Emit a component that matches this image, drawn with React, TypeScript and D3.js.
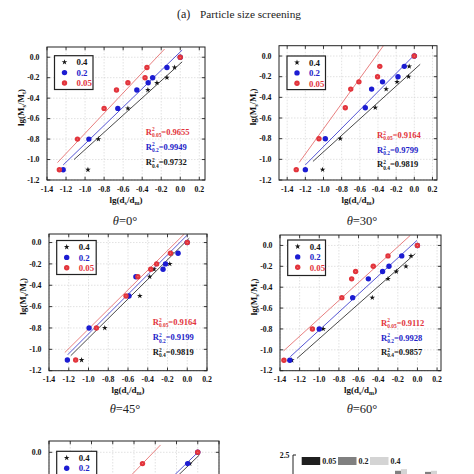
import React from "react";
import * as d3 from "d3";

const FONT = "'Liberation Serif','Times New Roman',serif";

// ---------- data ----------
const seriesKeys = ["0.4", "0.2", "0.05"];
const xTicks = [-1.4, -1.2, -1.0, -0.8, -0.6, -0.4, -0.2, 0.0, 0.2];
const yTicks = [0.0, -0.2, -0.4, -0.6, -0.8, -1.0, -1.2];

// θ=0°
const t0_s04 = [[-0.97, -1.1], [-0.86, -0.8], [-0.55, -0.5], [-0.34, -0.32], [-0.245, -0.25], [-0.14, -0.2], [-0.06, -0.1], [0, 0]];
const t0_s02 = [[-1.23, -1.1], [-0.96, -0.8], [-0.656, -0.5], [-0.456, -0.32], [-0.337, -0.25], [-0.29, -0.2], [-0.14, -0.1], [0, 0]];
const t0_s005 = [[-1.27, -1.1], [-1.08, -0.8], [-0.8, -0.5], [-0.67, -0.32], [-0.55, -0.25], [-0.37, -0.2], [-0.35, -0.1], [0, 0]];
const t0_fits = [[-1.116, -1.0, 0.02, -0.045], [-1.23, -1.053, 0.02, 0.07], [-1.29, -1.03, -0.165, 0.08]];
const t0_r2 = ["0.9732", "0.9949", "0.9655"];

// θ=30°
const t30_s04 = [[-1.01, -1.1], [-0.815, -0.8], [-0.43, -0.5], [-0.31, -0.32], [-0.19, -0.25], [-0.063, -0.2], [-0.056, -0.1], [0, 0]];
const t30_s02 = [[-1.2, -1.1], [-0.98, -0.8], [-0.54, -0.5], [-0.47, -0.32], [-0.35, -0.25], [-0.18, -0.2], [-0.11, -0.1], [0, 0]];
const t30_s005 = [[-1.3, -1.1], [-1.05, -0.8], [-0.76, -0.5], [-0.7, -0.32], [-0.61, -0.25], [-0.405, -0.2], [-0.38, -0.1], [0, 0]];
const t30_fits = [[-1.116, -1.02, 0.065, -0.08], [-1.2, -1.054, 0.01, 0.018], [-1.267, -1.03, -0.34, 0.1]];
const t30_r2 = ["0.9819", "0.9799", "0.9164"];

// θ=45°
const t45_s04 = [[-1.07, -1.1], [-0.835, -0.8], [-0.48, -0.5], [-0.38, -0.32], [-0.336, -0.25], [-0.177, -0.2], [-0.16, -0.1], [0, 0]];
const t45_s02 = [[-1.214, -1.1], [-0.994, -0.8], [-0.59, -0.5], [-0.52, -0.32], [-0.245, -0.25], [-0.22, -0.2], [-0.093, -0.1], [0, 0]];
const t45_s005 = [[-1.13, -1.1], [-0.92, -0.8], [-0.62, -0.5], [-0.5, -0.32], [-0.37, -0.25], [-0.31, -0.2], [-0.17, -0.1], [0, 0]];
const t45_fits = [[-1.18, -1.06, 0.02, 0.04], [-1.21, -1.05, 0.0, 0.07], [-1.24, -1.03, -0.03, 0.08]];
const t45_r2 = ["0.9819", "0.9199", "0.9164"];

// θ=60°
const t60_s04 = [[-1.28, -1.1], [-0.96, -0.8], [-0.46, -0.5], [-0.3, -0.32], [-0.215, -0.25], [-0.117, -0.2], [-0.066, -0.1], [0, 0]];
const t60_s02 = [[-1.3, -1.1], [-1.0, -0.8], [-0.66, -0.5], [-0.5, -0.32], [-0.355, -0.25], [-0.29, -0.2], [-0.16, -0.1], [0, 0]];
const t60_s005 = [[-1.36, -1.1], [-1.07, -0.8], [-0.77, -0.5], [-0.67, -0.32], [-0.63, -0.25], [-0.45, -0.2], [-0.3, -0.1], [0, 0]];
const t60_fits = [[-1.227, -1.082, -0.022, -0.079], [-1.295, -1.066, -0.005, 0.048], [-1.363, -1.01, -0.073, 0.096]];
const t60_r2 = ["0.9857", "0.9928", "0.9112"];

// bottom-left (partly visible)
const t90_s04 = [[-0.075, -0.1], [0, 0]];
const t90_s02 = [[-0.095, -0.1], [0, 0]];
const t90_s005 = [[-0.52, -0.1], [0, 0]];
const t90_fits = [[-0.6, -0.58, 0.015, -0.024], [-0.6, -0.55, -0.01, -0.01], [-1.2, -0.76, -0.35, 0.065]];

// bottom-right bar chart (partly visible)
const barGroups = ["g1", "g2", "g3", "g4", "g5", "g6"];
const bar005 = [1.6, 1.7, 1.8, 2.05, 2.0, 1.9];
const bar02 = [1.7, 1.8, 1.9, 2.21, 2.19, 2.0];
const bar04 = [1.75, 1.85, 1.95, 2.24, 2.21, 2.05];
const barKeys = ["0.05", "0.2", "0.4"];

// ---------- style ----------
const ptColors = ["#151515", "#1c1cd2", "#e2343c"];
const fitColors = ["#1a1a1a", "#2b2bc9", "#e26060"];
const r2Colors = ["#151515", "#2323c8", "#e2343c"];
const barColors = ["#1f1f1f", "#808080", "#d4d4d4"];
const VIEW_H = 474;

const fmt = (v: number) => {
  const a = Math.abs(v) < 1e-9 ? 0 : v;
  return (a < 0 ? "-" : "") + Math.abs(a).toFixed(1);
};

function Marker({ i, cx, cy }: { i: number; cx: number; cy: number }) {
  if (i === 0) {
    const p = d3.symbol(d3.symbolStar, 10)() as string;
    return <path d={p} transform={`translate(${cx},${cy})`} fill={ptColors[0]} />;
  }
  if (i === 1) return <circle cx={cx} cy={cy} r={2.7} fill={ptColors[1]} />;
  return (
    <g>
      <circle cx={cx} cy={cy} r={2.7} fill={ptColors[2]} />
      <circle cx={cx} cy={cy} r={0.6} fill="#f07a7a" />
    </g>
  );
}

type Cfg = {
  id: string;
  left: number; right: number; top: number; bottom: number;
  xDomain: [number, number]; yDomain: [number, number];
  legend: { x: number; y: number; w: number; h: number };
  r2?: { x: number; ys: number[] };
  label?: { x: number; y: number; text: string };
};

function Panel({ cfg, series, fits, r2 }: { cfg: Cfg; series: number[][][]; fits: number[][]; r2?: string[] }) {
  const x = d3.scaleLinear().domain(cfg.xDomain).range([cfg.left, cfg.right]);
  const y = d3.scaleLinear().domain(cfg.yDomain).range([cfg.bottom, cfg.top]);
  const xt = xTicks.filter((t) => t >= cfg.xDomain[0] - 1e-9 && t <= cfg.xDomain[1] + 1e-9);
  const yt = yTicks.filter((t) => t >= cfg.yDomain[0] - 1e-9 && t <= cfg.yDomain[1] + 1e-9);
  const line = d3.line<number[]>().x((d) => x(d[0])).y((d) => y(d[1]));
  const w = cfg.right - cfg.left;
  const h = cfg.bottom - cfg.top;
  const cx = (cfg.left + cfg.right) / 2;
  const cy = (cfg.top + cfg.bottom) / 2;
  const tk = 3.2;
  const inView = cfg.bottom + 12 < VIEW_H;
  return (
    <g fontFamily={FONT}>
      <defs>
        <clipPath id={`clip-${cfg.id}`}>
          <rect x={cfg.left} y={cfg.top} width={w} height={h} />
        </clipPath>
      </defs>
      <rect x={cfg.left} y={cfg.top} width={w} height={h} fill="#fff" />
      {xt.map((t) => (
        <line key={"gx" + t} x1={x(t)} x2={x(t)} y1={cfg.top} y2={cfg.bottom} stroke="#cfcfcf" strokeWidth={0.6} strokeDasharray="1.5,1.5" />
      ))}
      {yt.map((t) => (
        <line key={"gy" + t} x1={cfg.left} x2={cfg.right} y1={y(t)} y2={y(t)} stroke="#cfcfcf" strokeWidth={0.6} strokeDasharray="1.5,1.5" />
      ))}
      <g clipPath={`url(#clip-${cfg.id})`}>
        {fits.map((f, i) => (
          <path key={"f" + i} d={line([[f[0], f[1]], [f[2], f[3]]]) as string} stroke={fitColors[i]} strokeWidth={0.8} fill="none" />
        ))}
        {series.map((s, i) => (
          <g key={"s" + i}>
            {s.map((d, j) => (
              <Marker key={j} i={i} cx={x(d[0])} cy={y(d[1])} />
            ))}
          </g>
        ))}
      </g>
      <rect x={cfg.left} y={cfg.top} width={w} height={h} fill="none" stroke="#222" strokeWidth={1} />
      {xt.map((t) => (
        <g key={"tx" + t}>
          <line x1={x(t)} x2={x(t)} y1={cfg.bottom} y2={cfg.bottom - tk} stroke="#222" strokeWidth={0.9} />
          <line x1={x(t)} x2={x(t)} y1={cfg.top} y2={cfg.top + tk} stroke="#222" strokeWidth={0.9} />
          {inView && (
            <text x={x(t)} y={cfg.bottom + 11.5} textAnchor="middle" fontSize={7.8} fontWeight="bold" fill="#111">{fmt(t)}</text>
          )}
        </g>
      ))}
      {yt.map((t) => (
        <g key={"ty" + t}>
          <line x1={cfg.left} x2={cfg.left + tk} y1={y(t)} y2={y(t)} stroke="#222" strokeWidth={0.9} />
          <line x1={cfg.right} x2={cfg.right - tk} y1={y(t)} y2={y(t)} stroke="#222" strokeWidth={0.9} />
          {y(t) + 2.7 < VIEW_H && (
            <text x={cfg.left - 7.5} y={y(t) + 2.7} textAnchor="end" fontSize={7.8} fontWeight="bold" fill="#111">{fmt(t)}</text>
          )}
        </g>
      ))}
      {inView && (
        <text x={cx} y={cfg.bottom + 22.5} textAnchor="middle" fontSize={9} fontWeight="bold" fill="#111">
          lg(d<tspan fontSize={6} dy={2}>s</tspan><tspan dy={-2}>/d</tspan><tspan fontSize={6} dy={2}>m</tspan><tspan dy={-2}>)</tspan>
        </text>
      )}
      {inView && (
        <text transform={`translate(${cfg.left - 23.5},${cy - 6}) rotate(-90)`} textAnchor="middle" fontSize={9} fontWeight="bold" fill="#111">
          lg(M<tspan fontSize={6} dy={2}>s</tspan><tspan dy={-2}>/M</tspan><tspan fontSize={6} dy={2}>t</tspan><tspan dy={-2}>)</tspan>
        </text>
      )}
      <rect x={cfg.legend.x} y={cfg.legend.y} width={cfg.legend.w} height={cfg.legend.h} fill="#fff" stroke="#222" strokeWidth={1.2} />
      {seriesKeys.map((k, i) => {
        const ry = cfg.legend.y + 6.5 + i * 10.4;
        return (
          <g key={"l" + k}>
            <Marker i={i} cx={cfg.legend.x + 10} cy={ry} />
            {ry + 3.2 < VIEW_H + 2 && (
              <text x={cfg.legend.x + 22} y={ry + 3.2} fontSize={8.8} fontWeight="bold" fill={r2Colors[i]}>{k}</text>
            )}
          </g>
        );
      })}
      {cfg.r2 && r2 && [2, 1, 0].map((i, row) => {
        const X = cfg.r2!.x;
        const Y = cfg.r2!.ys[row];
        return (
          <text key={"r" + i} x={X} y={Y} fontSize={8.5} fontWeight="bold" fill={r2Colors[i]}>
            R<tspan x={X + 6.2} dy={-3.4} fontSize={5.4}>2</tspan>
            <tspan x={X + 6.2} dy={5.6} fontSize={5.4}>{seriesKeys[i]}</tspan>
            <tspan dy={-2.2}>={r2[i]}</tspan>
          </text>
        );
      })}
      {cfg.label && (
        <text x={cfg.label.x} y={cfg.label.y} textAnchor="middle" fontSize={12.5} fill="#222">
          <tspan fontStyle="italic">θ</tspan>={cfg.label.text}
        </text>
      )}
    </g>
  );
}

const cfg0: Cfg = {
  id: "p0", left: 47, right: 205, top: 47, bottom: 180,
  xDomain: [-1.4, 0.26], yDomain: [-1.2, 0.1],
  legend: { x: 54.5, y: 55.7, w: 38.5, h: 33.8 },
  r2: { x: 145.7, ys: [134.7, 149.7, 165.3] },
  label: { x: 125, y: 224.5, text: "0°" },
};
const cfg30: Cfg = {
  id: "p30", left: 279, right: 437, top: 45.7, bottom: 180,
  xDomain: [-1.49, 0.25], yDomain: [-1.2, 0.1],
  legend: { x: 287, y: 56, w: 38.5, h: 33.6 },
  r2: { x: 377, ys: [138, 153, 167.3] },
  label: { x: 362, y: 224.5, text: "30°" },
};
const cfg45: Cfg = {
  id: "p45", left: 49, right: 207, top: 234, bottom: 370.7,
  xDomain: [-1.4, 0.2], yDomain: [-1.2, 0.08],
  legend: { x: 56.7, y: 240.5, w: 39.5, h: 34 },
  r2: { x: 152.7, ys: [325, 340.3, 355] },
  label: { x: 125, y: 413, text: "45°" },
};
const cfg60: Cfg = {
  id: "p60", left: 280, right: 441, top: 235, bottom: 370.7,
  xDomain: [-1.4, 0.24], yDomain: [-1.2, 0.1],
  legend: { x: 287.7, y: 240, w: 37.8, h: 35.5 },
  r2: { x: 381, ys: [325.6, 340.6, 355] },
  label: { x: 362, y: 413, text: "60°" },
};
const cfg90: Cfg = {
  id: "p90", left: 49, right: 219, top: 441, bottom: 588,
  xDomain: [-1.4, 0.2], yDomain: [-1.2, 0.1],
  legend: { x: 56.7, y: 451.3, w: 40, h: 34 },
};

function BarPanel() {
  const x = d3.scaleBand<string>().domain(barGroups).range([293, 473]).paddingInner(0.4).paddingOuter(0.2);
  const xi = d3.scaleBand<string>().domain(barKeys).range([0, x.bandwidth()]);
  const y = d3.scaleLinear().domain([0, 2.5]).range([591, 455]);
  const vals = [bar005, bar02, bar04];
  return (
    <g fontFamily={FONT}>
      {barGroups.map((g, gi) => (
        <g key={g}>
          {barKeys.map((k, ki) => (
            <rect key={k} x={(x(g) as number) + (xi(k) as number)} y={y(vals[ki][gi])} width={xi.bandwidth()} height={y(0) - y(vals[ki][gi])} fill={barColors[ki]} />
          ))}
        </g>
      ))}
      <line x1={293} x2={293} y1={y(2.5)} y2={480} stroke="#222" strokeWidth={1} />
      <line x1={293} x2={296} y1={y(2.5)} y2={y(2.5)} stroke="#222" strokeWidth={1} />
      <text x={289.5} y={y(2.5) + 2.6} textAnchor="end" fontSize={7.8} fontWeight="bold" fill="#111">2.5</text>
      {barKeys.map((k, i) => {
        const lx = [301.7, 338, 370][i];
        return (
          <g key={"bl" + k}>
            <rect x={lx} y={457} width={18.5} height={8} fill={barColors[i]} />
            <text x={lx + 20.5} y={463.8} fontSize={8} fontWeight="bold" fill="#222">{k}</text>
          </g>
        );
      })}
    </g>
  );
}

export default function App() {
  return (
    <div style={{ position: "absolute", left: 0, top: 0 }}>
      <svg width={474} height={474} style={{ display: "block", background: "#fff" }}>
        <text x={177} y={18} fontFamily={FONT} fontSize={12} fill="#222">(a)</text>
        <text x={200} y={18} fontFamily={FONT} fontSize={11.3} fill="#222">Particle size screening</text>
        <Panel cfg={cfg0} series={[t0_s04, t0_s02, t0_s005]} fits={t0_fits} r2={t0_r2} />
        <Panel cfg={cfg30} series={[t30_s04, t30_s02, t30_s005]} fits={t30_fits} r2={t30_r2} />
        <Panel cfg={cfg45} series={[t45_s04, t45_s02, t45_s005]} fits={t45_fits} r2={t45_r2} />
        <Panel cfg={cfg60} series={[t60_s04, t60_s02, t60_s005]} fits={t60_fits} r2={t60_r2} />
        <Panel cfg={cfg90} series={[t90_s04, t90_s02, t90_s005]} fits={t90_fits} />
        <BarPanel />
      </svg>
    </div>
  );
}
